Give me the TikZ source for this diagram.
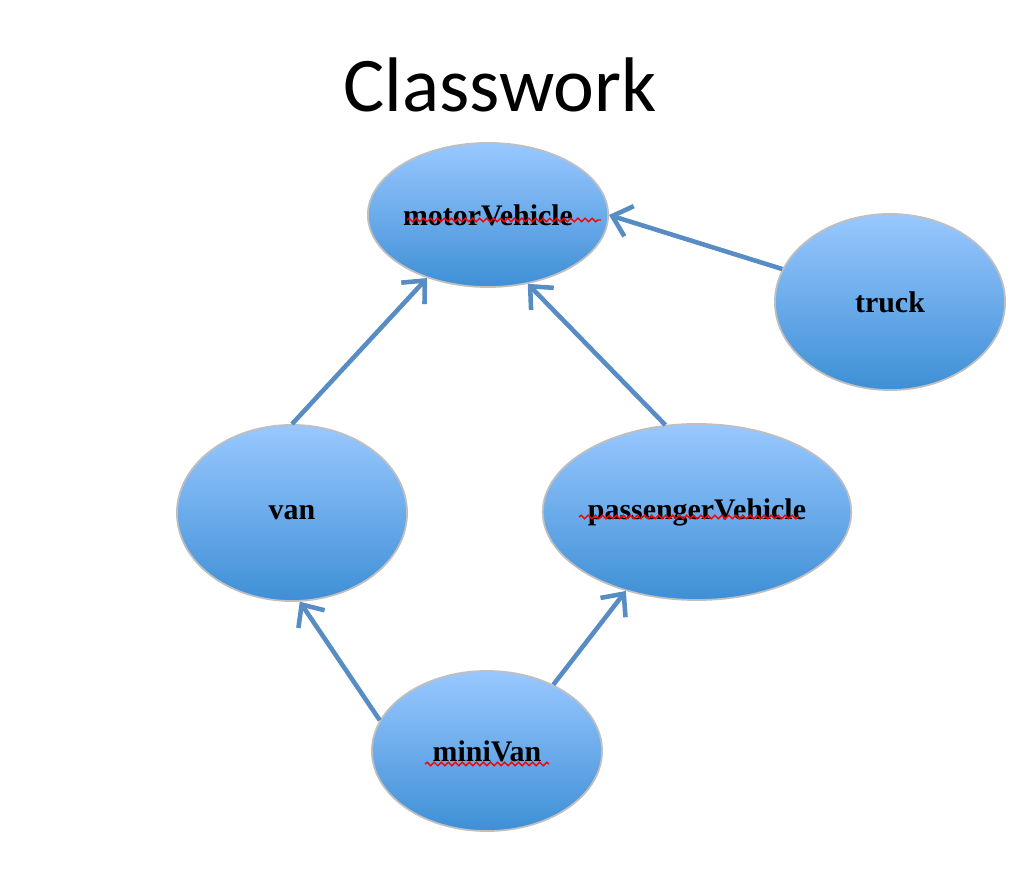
\documentclass[tikz,border=0pt]{standalone}
\usepackage{fontspec}
\setmainfont{Liberation Serif}
\newfontfamily\titlefont{Carlito}
\usetikzlibrary{shapes.geometric,arrows.meta,decorations.pathmorphing}
\begin{document}
\begin{tikzpicture}[x=0.01cm,y=-0.01cm,
  cls/.style={ellipse,draw=black!25,line width=0.5pt,top color=blue!8!cyan!25!white!80!blue,
    bottom color={rgb,255:red,62;green,143;blue,214},inner sep=0pt,
    font=\fontsize{8.5}{10}\selectfont\bfseries},
  conn/.style={draw={rgb,255:red,88;green,140;blue,196},line width=1.3pt,
    -{Straight Barb[length=5pt,width=9pt]}},
  spell/.style={draw=red,line width=0.4pt,decorate,decoration={snake,amplitude=0.5pt,segment length=2pt}}]
\useasboundingbox (0,0) rectangle (1024,889);
\node[font=\titlefont\fontsize{22}{26}\selectfont] (title) at (500,85) {Classwork};
\node[cls,minimum width=230\pgflinewidth*0+2.3cm,minimum height=1.44cm] (mv) at (488,215) {motorVehicle};
\node[cls,minimum width=2.3cm,minimum height=1.76cm] (truck) at (890,302) {truck};
\node[cls,minimum width=2.3cm,minimum height=1.76cm] (van) at (292,513) {van};
\node[cls,minimum width=2.66cm,minimum height=1.76cm] (pv) at (697,512) {passengerVehicle};
\node[cls,minimum width=2.3cm,minimum height=1.6cm] (mini) at (487,751) {miniVan};
\coordinate (u1a) at (407,220); \coordinate (u1b) at (601,220);
\coordinate (u2a) at (579,517); \coordinate (u2b) at (799,517);
\coordinate (u3a) at (425,764); \coordinate (u3b) at (549,764);
\draw[spell] (u1a) -- (u1b);
\draw[spell] (u2a) -- (u2b);
\draw[spell] (u3a) -- (u3b);
\draw[conn] (truck.163) -- (mv.east);
\draw[conn] (van.north) -- (mv.-134);
\draw[conn] (pv.110) -- (mv.-60);
\draw[conn] (mini.164) -- (van.-85);
\draw[conn] (mini.45) -- (pv.-132);
\end{tikzpicture}
\end{document}
